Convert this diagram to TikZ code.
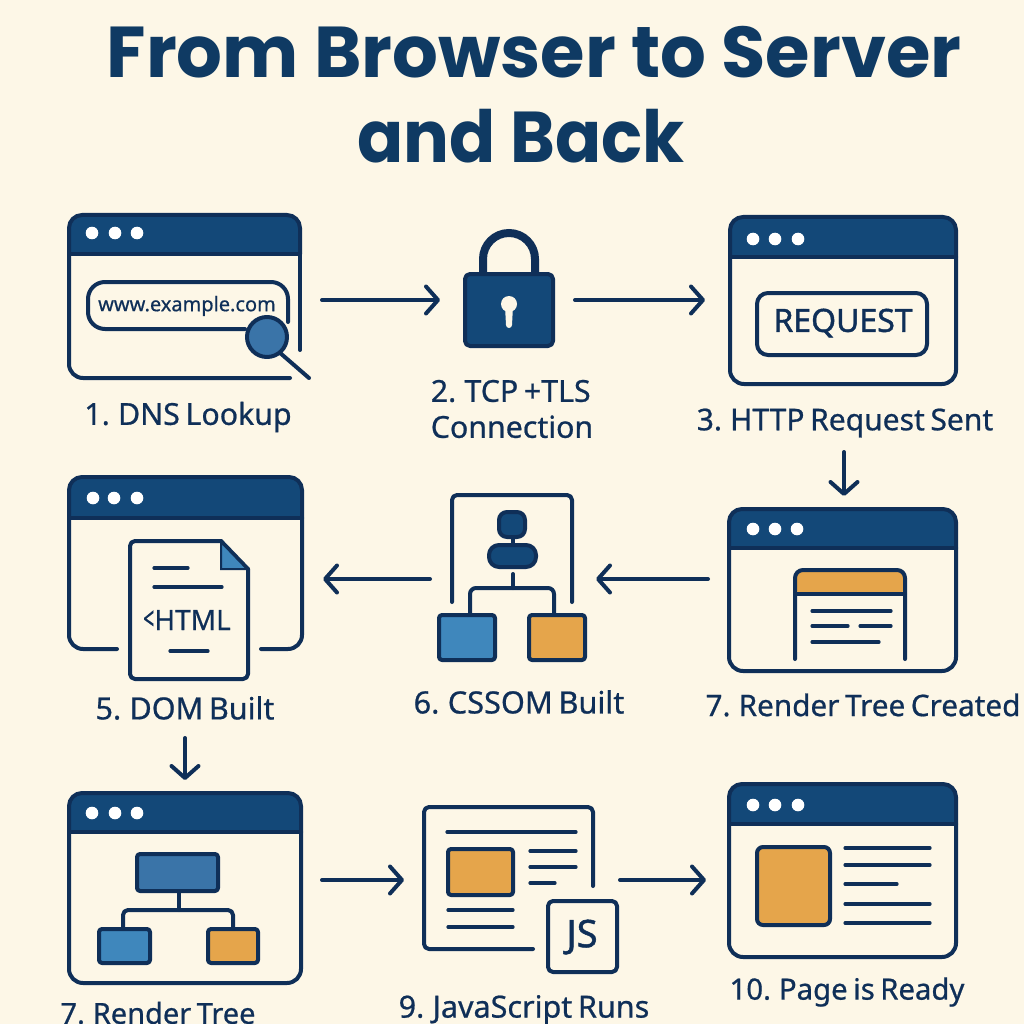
\documentclass[tikz,border=0pt]{standalone}
\usepackage{fontspec}
\usetikzlibrary{arrows.meta}
\setmainfont{Noto Sans}
\newfontfamily\titlefont{Poppins}
\newfontfamily\labelfont{Noto Sans}[FakeBold=0.7,WordSpace=0.72]
\newfontfamily\urlfont{Noto Sans}[FakeBold=0.6]
\newfontfamily\heavyfont{Noto Sans}[FakeBold=1.3]
\definecolor{bgc}{HTML}{FDF7E7}
\definecolor{navy}{HTML}{0F2F58}
\definecolor{hdr}{HTML}{134878}
\definecolor{bluec}{HTML}{3F87BC}
\definecolor{midb}{HTML}{3A74A8}
\definecolor{orangec}{HTML}{E5A54B}
\definecolor{titlec}{HTML}{0F3A63}
\tikzset{
  ln/.style={draw=navy,line width=4pt,line cap=round,line join=round},
  thin line/.style={draw=navy,line width=3.2pt,line cap=round},
  flow/.style={draw=navy,line width=4pt,line cap=round,-{Straight Barb[length=12pt,width=27pt,round]}},
  spot/.style={draw=none,inner sep=0pt,outer sep=0pt},
  lab/.style={inner sep=0pt,outer sep=0pt,text=navy,font=\labelfont\fontsize{#1}{36}\selectfont,align=left},
  lab/.default=30.5,
  ttl/.style={inner sep=0pt,outer sep=0pt,text=titlec,font=\titlefont\bfseries\fontsize{72}{72}\selectfont}
}
% named invisible regions: name, x1, y1, x2, y2
\newcommand{\spotbox}[5]{\node[spot,minimum width={(#4-#2)*1pt},minimum height={(#5-#3)*1pt}] (#1) at ({(#2+#4)/2},{(#3+#5)/2}) {};}
% header: x1,y1,x2,hb,dot1,dot2,dot3,doty
\newcommand{\winhead}[8]{%
  \fill[hdr,rounded corners=13pt] (#1,#2) -- (#3,#2) -- (#3,{#4+20}) -- (#1,{#4+20}) -- cycle;
  \fill[bgc] (#1-3,#4) rectangle (#3+3,{#4+24});
  \draw[ln,rounded corners=13pt] (#1,#4) -- (#1,#2) -- (#3,#2) -- (#3,#4);
  \draw[ln] (#1,#4) -- (#3,#4);
  \fill[white] (#5,#8) circle (6.3) (#6,#8) circle (6.3) (#7,#8) circle (6.3);
}
\begin{document}
\begin{tikzpicture}[x=1pt,y=-1pt]
\fill[bgc] (0,0) rectangle (1024,1024);
\useasboundingbox (0,0) rectangle (1024,1024);

\node[ttl] (t1) at (534,52) {From Browser to Server};
\node[ttl] (t2) at (521,136) {\scalebox{0.945}[1]{and Back}};

% regions for connectors
\spotbox{dns}{48}{200}{322}{400}
\spotbox{lock}{440}{200}{575}{400}
\spotbox{req}{705}{148}{983}{452}
\spotbox{rtc}{708}{496}{980}{662}
\spotbox{cssom}{430}{495}{596}{663}
\spotbox{dom}{47}{420}{323}{738}
\spotbox{rt}{48}{780}{322}{980}
\spotbox{jsr}{404}{800}{620}{960}
\spotbox{page}{706}{800}{1000}{960}

% 1 DNS
\winhead{69}{215}{300}{254}{92}{115}{137}{233}
\draw[ln] (300,254) -- (300,350);
\draw[ln,rounded corners=14pt] (69,254) -- (69,378) -- (290,378);
\draw[ln,rounded corners=17pt] (245,329) -- (88,329) -- (88,282) -- (288,282) -- (288,322);
\node[inner sep=0pt,text=navy,font=\urlfont\fontsize{20}{24}\selectfont] (url) at (187,306) {www.example.com};
\draw[ln] (279,352) -- (309,378);
\draw[ln,fill=midb] (267,337) circle (20);
\node[lab=30.3] (l1) at (188,417) {1. DNS Lookup};

% 2 lock
\draw[draw=navy,line width=8pt] (483,276) -- (483,259) arc (180:360:26) -- (535,276);
\draw[ln,fill=hdr,rounded corners=5pt] (465,274) rectangle (553,346);
\fill[bgc] (505,306) -- (513,306) -- (512,325) arc (0:180:3) -- cycle;
\fill[bgc] (509,304) circle (8);
\node[lab=30.3] (l2) at (512,409) {2. TCP +TLS\\Connection};

% 3 request
\winhead{730}{217}{956}{257}{753}{775}{798}{239}
\draw[ln,rounded corners=14pt] (730,257) -- (730,384) -- (956,384) -- (956,257);
\draw[ln,rounded corners=11pt] (757,293) rectangle (927,355);
\node[inner sep=0pt,text=navy,font=\heavyfont\fontsize{32}{36}\selectfont] (reqt) at (843,323) {REQUEST};
\node[lab=30] (l3) at (845,423) {3. HTTP Request Sent};

% 7 render tree created
\winhead{729}{509}{956}{548}{753}{775}{797}{529}
\draw[ln,rounded corners=14pt] (729,548) -- (729,671) -- (956,671) -- (956,548);
\fill[orangec,rounded corners=8pt] (795,594) -- (795,570) -- (905,570) -- (905,594) -- cycle;
\draw[ln,rounded corners=8pt] (795,659) -- (795,570) -- (905,570) -- (905,659);
\draw[ln] (795,594) -- (905,594);
\draw[thin line] (812,611) -- (891,611) (812,626) -- (848,626) (860,626) -- (891,626) (812,642) -- (879,642);
\node[lab=29.7] (l7a) at (863,705) {7. Render Tree Created};

% 5 DOM
\winhead{69}{477}{302}{518}{93}{114}{137}{498}
\draw[ln,rounded corners=14pt] (69,518) -- (69,649) -- (117,649);
\draw[ln,rounded corners=14pt] (302,518) -- (302,649) -- (261,649);
\draw[ln,fill=bgc,rounded corners=5pt] (221,541) -- (130,541) -- (130,679) -- (248,679) -- (248,569);
\draw[ln] (221,541) -- (248,569);
\fill[draw=navy,line width=2pt,fill=bluec] (221,542) -- (247,569) -- (221,569) -- cycle;
\draw[thin line] (154,568) -- (188,568) (154,587) -- (222,587) (170,651) -- (208,651);
\node[inner sep=0pt,text=navy,font=\urlfont\fontsize{28}{30}\selectfont] (html) at (187,620) {\scalebox{0.7}[1.15]{<}HTML};
\node[lab=30.5] (l5) at (185,708) {5. DOM Built};

% 6 CSSOM
\draw[ln,rounded corners=5pt] (452,602) -- (452,495) -- (572,495) -- (572,602);
\draw[ln,fill=hdr,rounded corners=8pt] (499,512) rectangle (525,537);
\draw[ln] (513,537) -- (513,545);
\draw[ln,fill=hdr,rounded corners=10pt] (489,567) -- (489,545) -- (536,545) -- (536,567) -- cycle;
\draw[ln] (513,574) -- (513,588);
\draw[ln,rounded corners=6pt] (470,615) -- (470,588) -- (554,588) -- (554,615);
\draw[ln,fill=bluec,rounded corners=3pt] (439,615) rectangle (495,660);
\draw[ln,fill=orangec,rounded corners=3pt] (529,615) rectangle (585,660);
\node[lab=30.7] (l6) at (519,702) {6. CSSOM Built};

% 7 render tree
\winhead{69}{793}{301}{832}{92}{115}{137}{813}
\draw[ln,rounded corners=14pt] (69,832) -- (69,983) -- (301,983) -- (301,832);
\draw[ln,fill=midb,rounded corners=3pt] (137,854) rectangle (218,891);
\draw[ln] (179,891) -- (179,910);
\draw[ln,rounded corners=5pt] (123,929) -- (123,910) -- (233,910) -- (233,929);
\draw[ln,fill=bluec,rounded corners=3pt] (99,929) rectangle (150,963);
\draw[ln,fill=orangec,rounded corners=3pt] (208,929) rectangle (258,963);
\node[lab=29] (l7b) at (158,1013) {7. Render Tree};

% 9 JS
\draw[ln,rounded corners=5pt] (593,886) -- (593,807) -- (424,807) -- (424,949) -- (533,949);
\draw[thin line] (447,832) -- (576,832);
\draw[ln,fill=orangec,rounded corners=3pt] (448,849) rectangle (513,895);
\draw[thin line] (530,851) -- (576,851) (530,867) -- (576,867) (530,883) -- (555,883);
\draw[thin line] (448,910) -- (513,910) (448,927) -- (513,927);
\draw[ln,rounded corners=5pt] (548,901) rectangle (617,972);
\node[inner sep=0pt,text=navy,font=\heavyfont\fontsize{38}{40}\selectfont] (jst) at (582,937) {JS};
\node[lab=30.5] (l9) at (524,1010) {9. JavaScript Runs};

% 10 page
\winhead{729}{784}{956}{824}{753}{775}{798}{805}
\draw[ln,rounded corners=14pt] (729,824) -- (729,957) -- (956,957) -- (956,824);
\draw[ln,fill=orangec,rounded corners=6pt] (757,847) rectangle (830,925);
\draw[thin line] (845,848) -- (930,848) (845,865) -- (930,865) (845,884) -- (897,884) (845,904) -- (930,904) (845,923) -- (930,923);
\node[lab=29.3] (l10) at (847,992) {10. Page is Ready};

% connectors
\draw[flow] (dns.east) -- (lock.west);
\draw[flow] (lock.east) -- (req.west);
\draw[flow] (req.south) -- (rtc.north);
\draw[flow] (rtc.west) -- (cssom.east);
\draw[flow] (cssom.west) -- (dom.east);
\draw[flow] (dom.south) -- (rt.north);
\draw[flow] (rt.east) -- (jsr.west);
\draw[flow] (jsr.east) -- (page.west);
\end{tikzpicture}
\end{document}
